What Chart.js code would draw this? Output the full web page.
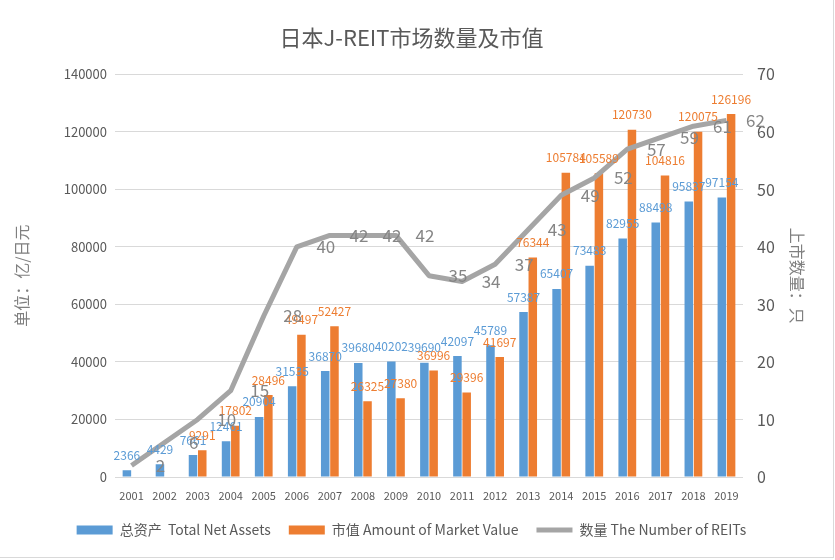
<!DOCTYPE html>
<html>
<head>
<meta charset="utf-8">
<script src="https://cdn.jsdelivr.net/npm/chart.js@4.4.1/dist/chart.umd.min.js"></script>
<style>
  html, body { margin: 0; padding: 0; background: #fff; }
  #wrap { position: relative; width: 833px; height: 557px; border-right: 1px solid #d9d9d9; border-bottom: 1px solid #d9d9d9; }
  canvas { display: block; }
</style>
</head>
<body>
<div id="wrap"><canvas id="reitChart" width="833" height="557"></canvas></div>
<script>
// years on the x axis
var years = ['2001', '2002', '2003', '2004', '2005', '2006', '2007', '2008', '2009', '2010',
             '2011', '2012', '2013', '2014', '2015', '2016', '2017', '2018', '2019'];
// 总资产 (亿日元)
var totalAssets = [2366, 4429, 7661, 12461, 20904, 31535, 36870, 39680, 40202, 39690,
                   42097, 45789, 57387, 65407, 73483, 82955, 88498, 95837, 97154];
// 市值 (亿日元)
var marketValue = [null, null, 9291, 17802, 28496, 49497, 52427, 26325, 27380, 36996,
                   29396, 41697, 76344, 105784, 105589, 120730, 104816, 120075, 126196];
// 上市数量 (只)
var reitCount = [2, 6, 10, 15, 28, 40, 42, 42, 42, 35, 34, 37, 43, 49, 52, 57, 59, 61, 62];

var FONT = "'Noto Sans CJK SC', 'Noto Sans', sans-serif";
var BLUE = '#5B9BD5', ORANGE = '#ED7D31', GREY = '#A5A5A5';

// value labels, Excel style
var valueLabels = {
  id: 'valueLabels',
  afterDatasetsDraw: function (chart) {
    var ctx = chart.ctx;
    ctx.save();
    ctx.textAlign = 'center';
    ctx.textBaseline = 'middle';
    [1, 2].forEach(function (di) {
      var meta = chart.getDatasetMeta(di);
      var vals = chart.data.datasets[di].data;
      ctx.font = '12px ' + FONT;
      ctx.fillStyle = di === 1 ? BLUE : ORANGE;
      meta.data.forEach(function (el, i) {
        if (vals[i] === null) return;
        ctx.fillText(String(vals[i]), el.x, el.y - 15);
      });
    });
    // count labels land one category to the right in the original
    var xs = chart.scales.x, yr = chart.scales.yRight;
    ctx.font = '17px ' + FONT;
    ctx.fillStyle = '#858585';
    reitCount.forEach(function (v, i) {
      ctx.fillText(String(v), xs.getPixelForValue(i + 1) - 4, yr.getPixelForValue(v));
    });
    ctx.restore();
  }
};

var legendRank = [2, 0, 1];

var ctx = document.getElementById('reitChart').getContext('2d');
var chart = new Chart(ctx, {
  type: 'bar',
  data: {
    labels: years,
    datasets: [
      {
        type: 'line',
        label: '数量 The Number of REITs',
        data: reitCount,
        borderColor: GREY,
        backgroundColor: GREY,
        borderWidth: 5,
        pointRadius: 0,
        tension: 0,
        borderJoinStyle: 'round',
        yAxisID: 'yRight'
      },
      {
        label: '总资产  Total Net Assets',
        data: totalAssets,
        backgroundColor: BLUE,
        yAxisID: 'y',
        categoryPercentage: 0.56,
        barPercentage: 0.92
      },
      {
        label: '市值 Amount of Market Value',
        data: marketValue,
        backgroundColor: ORANGE,
        yAxisID: 'y',
        categoryPercentage: 0.56,
        barPercentage: 0.92
      }
    ]
  },
  options: {
    responsive: false,
    animation: false,
    layout: { padding: { top: 12, left: 12, right: 22, bottom: 10 } },
    plugins: {
      title: {
        display: true,
        text: '日本J-REIT市场数量及市值',
        color: '#595959',
        font: { family: FONT, size: 22, weight: 'normal' },
        padding: { top: 12, bottom: 24 }
      },
      legend: {
        position: 'bottom',
        labels: {
          color: '#595959',
          font: { family: FONT, size: 14 },
          usePointStyle: true,
          pointStyleWidth: 36,
          boxHeight: 9,
          padding: 18,
          sort: function (a, b) { return legendRank[a.datasetIndex] - legendRank[b.datasetIndex]; },
          generateLabels: function (c) {
            var items = Chart.defaults.plugins.legend.labels.generateLabels(c);
            items.forEach(function (it) {
              if (it.datasetIndex === 0) {
                it.pointStyle = 'line';
                it.lineWidth = 5;
                it.strokeStyle = GREY;
              } else {
                it.pointStyle = 'rect';
                it.lineWidth = 0;
              }
            });
            return items;
          }
        }
      },
      tooltip: { enabled: false }
    },
    scales: {
      x: {
        grid: { display: false },
        border: { display: false },
        ticks: { color: '#595959', font: { family: FONT, size: 11 }, maxRotation: 0, padding: 4 },
        afterFit: function (s) { s.height = 28; }
      },
      y: {
        position: 'left',
        min: 0,
        max: 140000,
        ticks: {
          stepSize: 20000, color: '#595959', font: { family: FONT, size: 13 }, padding: 8,
          callback: function (v) { return String(v); }
        },
        grid: { color: '#d9d9d9', lineWidth: 1, drawTicks: false },
        border: { display: false },
        title: {
          display: true,
          text: '单位：亿/日元',
          color: '#7F7F7F',
          font: { family: FONT, size: 16 },
          padding: { top: 0, bottom: 4 }
        },
        afterFit: function (s) { s.width = 103; }
      },
      yRight: {
        position: 'right',
        min: 0,
        max: 70,
        ticks: { stepSize: 10, color: '#595959', font: { family: FONT, size: 16 }, padding: 14 },
        grid: { drawOnChartArea: false, drawTicks: false },
        border: { display: false },
        title: {
          display: true,
          text: '上市数量：只',
          color: '#7F7F7F',
          font: { family: FONT, size: 16 },
          padding: { top: 4, bottom: 0 }
        },
        afterFit: function (s) { s.width = 68; }
      }
    }
  },
  plugins: [valueLabels]
});
</script>
</body>
</html>
